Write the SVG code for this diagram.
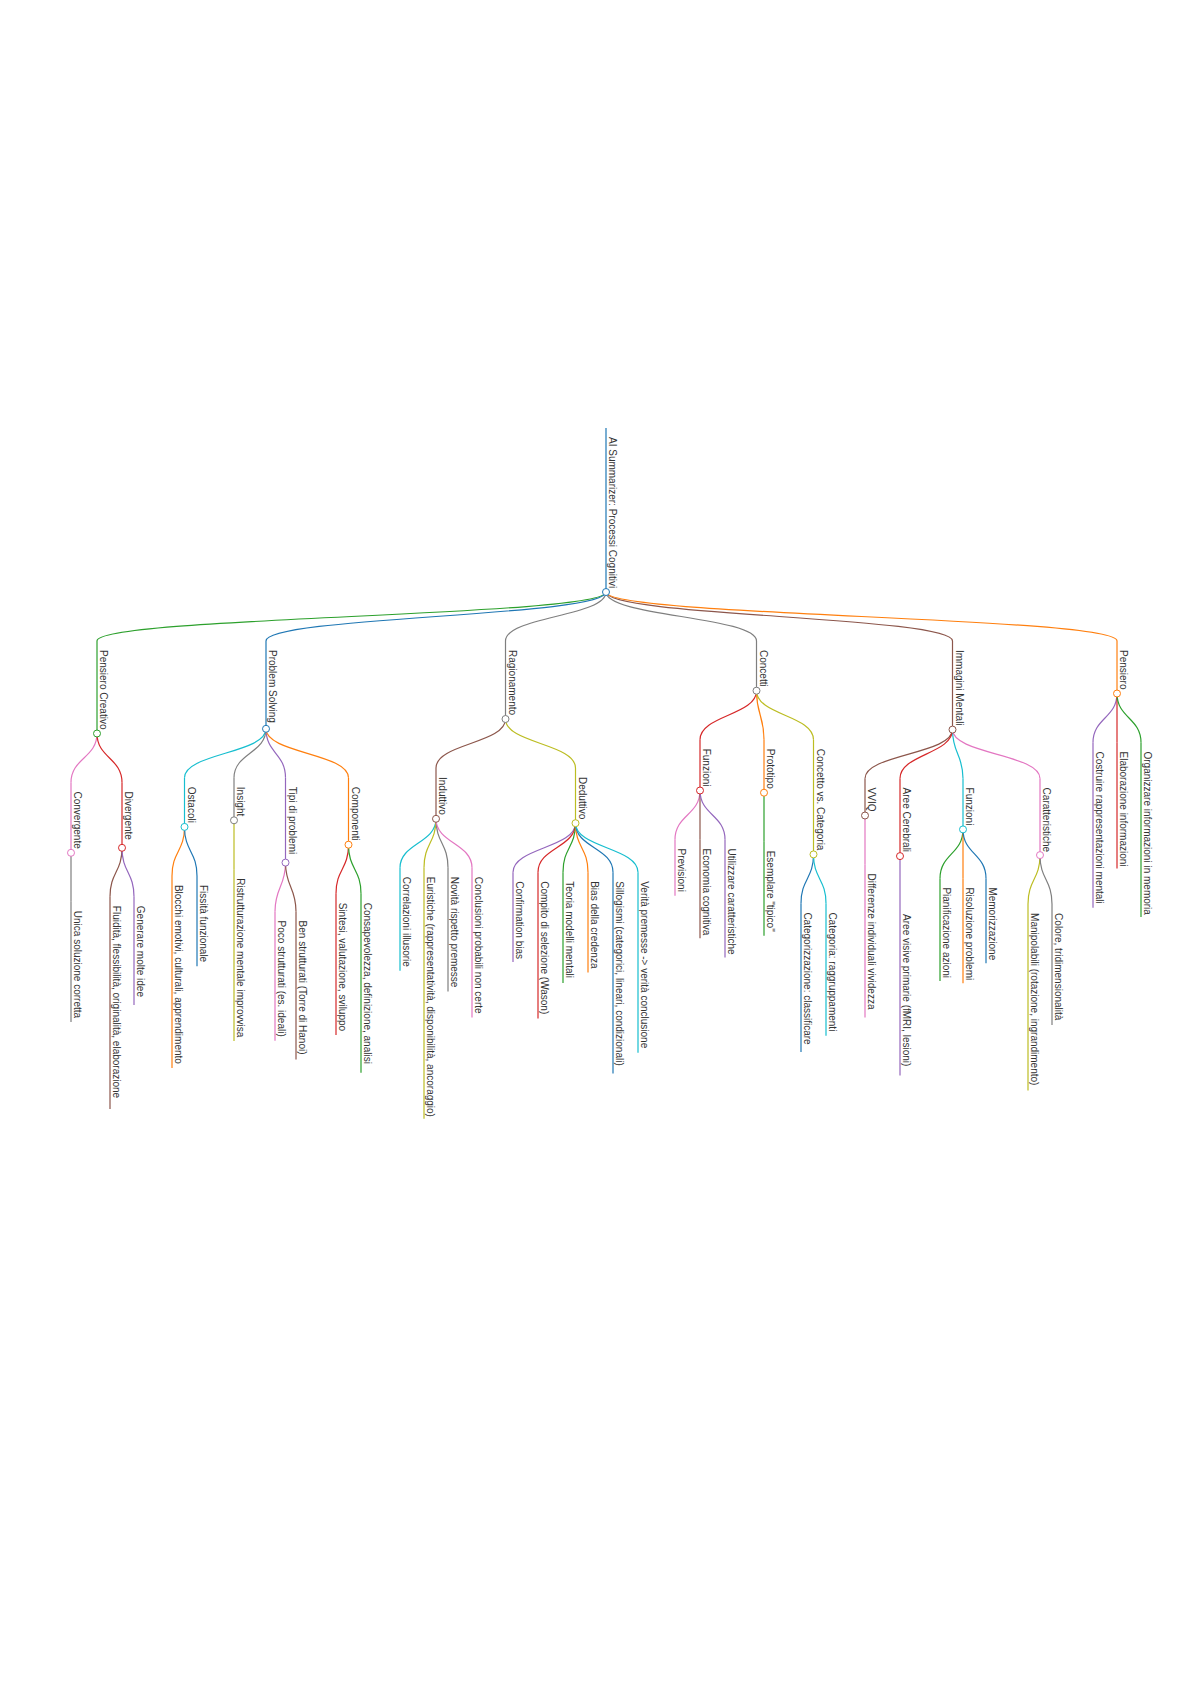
<svg xmlns="http://www.w3.org/2000/svg" width="1200" height="1698" viewBox="0 0 1200 1698">
<style>
text{font-family:"Liberation Sans",Arial,sans-serif;font-size:10px;fill:#333}
.l{fill:none;stroke-width:1.2}
circle{fill:#fff;stroke-width:1}
.k0{stroke:#1f77b4}.k1{stroke:#ff7f0e}.k2{stroke:#2ca02c}.k3{stroke:#d62728}.k4{stroke:#9467bd}
.k5{stroke:#8c564b}.k6{stroke:#e377c2}.k7{stroke:#7f7f7f}.k8{stroke:#bcbd22}.k9{stroke:#17becf}
</style>
<rect width="1200" height="1698" fill="#fff"/>
<g id="connectors">
<path class="l k2" d="M606,592 C606,616.5 97,616.5 97,641"/>
<path class="l k0" d="M606,592 C606,616.5 266,616.5 266,641"/>
<path class="l k7" d="M606,592 C606,616.5 505.5,616.5 505.5,641"/>
<path class="l k7" d="M606,592 C606,616.5 756.5,616.5 756.5,641"/>
<path class="l k5" d="M606,592 C606,616.5 952.5,616.5 952.5,641"/>
<path class="l k1" d="M606,592 C606,616.5 1117,616.5 1117,641"/>
<path class="l k6" d="M97,733.5 C97,758 71,758 71,782.5"/>
<path class="l k3" d="M97,733.5 C97,758 122,758 122,782.5"/>
<path class="l k9" d="M266,728.8 C266,753.3 184.5,753.3 184.5,777.8"/>
<path class="l k7" d="M266,728.8 C266,753.3 234,753.3 234,777.8"/>
<path class="l k4" d="M266,728.8 C266,753.3 285.5,753.3 285.5,777.8"/>
<path class="l k1" d="M266,728.8 C266,753.3 348.5,753.3 348.5,777.8"/>
<path class="l k5" d="M505.5,719 C505.5,743.5 436,743.5 436,768"/>
<path class="l k8" d="M505.5,719 C505.5,743.5 575.5,743.5 575.5,768"/>
<path class="l k3" d="M756.5,690.7 C756.5,715.2 700,715.2 700,739.7"/>
<path class="l k1" d="M756.5,690.7 C756.5,715.2 764,715.2 764,739.7"/>
<path class="l k8" d="M756.5,690.7 C756.5,715.2 813.5,715.2 813.5,739.7"/>
<path class="l k5" d="M952.5,729.6 C952.5,754.1 865,754.1 865,778.6"/>
<path class="l k3" d="M952.5,729.6 C952.5,754.1 900,754.1 900,778.6"/>
<path class="l k9" d="M952.5,729.6 C952.5,754.1 963,754.1 963,778.6"/>
<path class="l k6" d="M952.5,729.6 C952.5,754.1 1040,754.1 1040,778.6"/>
<path class="l k4" d="M1117,693.5 C1117,718 1093,718 1093,742.5"/>
<path class="l k3" d="M1117,693.5 C1117,718 1117,718 1117,742.5"/>
<path class="l k2" d="M1117,693.5 C1117,718 1141,718 1141,742.5"/>
<path class="l k7" d="M71,852.8 L71,901.8"/>
<path class="l k5" d="M122,847.8 C122,872.3 110,872.3 110,896.8"/>
<path class="l k4" d="M122,847.8 C122,872.3 134,872.3 134,896.8"/>
<path class="l k1" d="M184.5,826.9 C184.5,851.4 172,851.4 172,875.9"/>
<path class="l k0" d="M184.5,826.9 C184.5,851.4 197,851.4 197,875.9"/>
<path class="l k8" d="M234,820.3 L234,869.3"/>
<path class="l k6" d="M285.5,862.6 C285.5,887.1 275,887.1 275,911.6"/>
<path class="l k5" d="M285.5,862.6 C285.5,887.1 296,887.1 296,911.6"/>
<path class="l k3" d="M348.5,844.7 C348.5,869.2 336,869.2 336,893.7"/>
<path class="l k2" d="M348.5,844.7 C348.5,869.2 361,869.2 361,893.7"/>
<path class="l k9" d="M436,818.8 C436,843.3 400,843.3 400,867.8"/>
<path class="l k8" d="M436,818.8 C436,843.3 424,843.3 424,867.8"/>
<path class="l k7" d="M436,818.8 C436,843.3 448,843.3 448,867.8"/>
<path class="l k6" d="M436,818.8 C436,843.3 472,843.3 472,867.8"/>
<path class="l k4" d="M575.5,823.2 C575.5,847.7 513,847.7 513,872.2"/>
<path class="l k3" d="M575.5,823.2 C575.5,847.7 538,847.7 538,872.2"/>
<path class="l k2" d="M575.5,823.2 C575.5,847.7 563,847.7 563,872.2"/>
<path class="l k1" d="M575.5,823.2 C575.5,847.7 588,847.7 588,872.2"/>
<path class="l k0" d="M575.5,823.2 C575.5,847.7 613,847.7 613,872.2"/>
<path class="l k9" d="M575.5,823.2 C575.5,847.7 638,847.7 638,872.2"/>
<path class="l k6" d="M700,790.5 C700,815 675,815 675,839.5"/>
<path class="l k5" d="M700,790.5 C700,815 700,815 700,839.5"/>
<path class="l k4" d="M700,790.5 C700,815 725,815 725,839.5"/>
<path class="l k2" d="M764,792.7 L764,841.7"/>
<path class="l k0" d="M813.5,854.4 C813.5,878.9 801,878.9 801,903.4"/>
<path class="l k9" d="M813.5,854.4 C813.5,878.9 826,878.9 826,903.4"/>
<path class="l k6" d="M865,815.5 L865,864.5"/>
<path class="l k4" d="M900,856.1 L900,905.1"/>
<path class="l k2" d="M963,829.4 C963,853.9 940,853.9 940,878.4"/>
<path class="l k1" d="M963,829.4 C963,853.9 963,853.9 963,878.4"/>
<path class="l k0" d="M963,829.4 C963,853.9 986,853.9 986,878.4"/>
<path class="l k8" d="M1040,855.1 C1040,879.6 1028,879.6 1028,904.1"/>
<path class="l k7" d="M1040,855.1 C1040,879.6 1052,879.6 1052,904.1"/>
</g>
<g id="n-root"><line class="l k0" x1="606" y1="428" x2="606" y2="592"/><text transform="translate(609,437) rotate(90)">AI Summarizer: Processi Cognitivi</text><circle class="k0" cx="606" cy="592" r="3.5"/></g>
<g id="n-pc"><line class="l k2" x1="97" y1="641" x2="97" y2="733.5"/><text transform="translate(100,650) rotate(90)">Pensiero Creativo</text><circle class="k2" cx="97" cy="733.5" r="3.5"/></g>
<g id="n-ps"><line class="l k0" x1="266" y1="641" x2="266" y2="728.8"/><text transform="translate(269,650) rotate(90)">Problem Solving</text><circle class="k0" cx="266" cy="728.8" r="3.5"/></g>
<g id="n-rag"><line class="l k7" x1="505.5" y1="641" x2="505.5" y2="719"/><text transform="translate(508.5,650) rotate(90)">Ragionamento</text><circle class="k7" cx="505.5" cy="719" r="3.5"/></g>
<g id="n-con"><line class="l k7" x1="756.5" y1="641" x2="756.5" y2="690.7"/><text transform="translate(759.5,650) rotate(90)">Concetti</text><circle class="k7" cx="756.5" cy="690.7" r="3.5"/></g>
<g id="n-im"><line class="l k5" x1="952.5" y1="641" x2="952.5" y2="729.6"/><text transform="translate(955.5,650) rotate(90)">Immagini Mentali</text><circle class="k5" cx="952.5" cy="729.6" r="3.5"/></g>
<g id="n-pen"><line class="l k1" x1="1117" y1="641" x2="1117" y2="693.5"/><text transform="translate(1120,650) rotate(90)">Pensiero</text><circle class="k1" cx="1117" cy="693.5" r="3.5"/></g>
<g id="n-conv"><line class="l k6" x1="71" y1="782.5" x2="71" y2="852.8"/><text transform="translate(74,791.5) rotate(90)">Convergente</text><circle class="k6" cx="71" cy="852.8" r="3.5"/></g>
<g id="n-div"><line class="l k3" x1="122" y1="782.5" x2="122" y2="847.8"/><text transform="translate(125,791.5) rotate(90)">Divergente</text><circle class="k3" cx="122" cy="847.8" r="3.5"/></g>
<g id="n-ost"><line class="l k9" x1="184.5" y1="777.8" x2="184.5" y2="826.9"/><text transform="translate(187.5,786.8) rotate(90)">Ostacoli</text><circle class="k9" cx="184.5" cy="826.9" r="3.5"/></g>
<g id="n-ins"><line class="l k7" x1="234" y1="777.8" x2="234" y2="820.3"/><text transform="translate(237,786.8) rotate(90)">Insight</text><circle class="k7" cx="234" cy="820.3" r="3.5"/></g>
<g id="n-tipi"><line class="l k4" x1="285.5" y1="777.8" x2="285.5" y2="862.6"/><text transform="translate(288.5,786.8) rotate(90)">Tipi di problemi</text><circle class="k4" cx="285.5" cy="862.6" r="3.5"/></g>
<g id="n-comp"><line class="l k1" x1="348.5" y1="777.8" x2="348.5" y2="844.7"/><text transform="translate(351.5,786.8) rotate(90)">Componenti</text><circle class="k1" cx="348.5" cy="844.7" r="3.5"/></g>
<g id="n-ind"><line class="l k5" x1="436" y1="768" x2="436" y2="818.8"/><text transform="translate(439,777) rotate(90)">Induttivo</text><circle class="k5" cx="436" cy="818.8" r="3.5"/></g>
<g id="n-ded"><line class="l k8" x1="575.5" y1="768" x2="575.5" y2="823.2"/><text transform="translate(578.5,777) rotate(90)">Deduttivo</text><circle class="k8" cx="575.5" cy="823.2" r="3.5"/></g>
<g id="n-funzc"><line class="l k3" x1="700" y1="739.7" x2="700" y2="790.5"/><text transform="translate(703,748.7) rotate(90)">Funzioni</text><circle class="k3" cx="700" cy="790.5" r="3.5"/></g>
<g id="n-proto"><line class="l k1" x1="764" y1="739.7" x2="764" y2="792.7"/><text transform="translate(767,748.7) rotate(90)">Prototipo</text><circle class="k1" cx="764" cy="792.7" r="3.5"/></g>
<g id="n-cvc"><line class="l k8" x1="813.5" y1="739.7" x2="813.5" y2="854.4"/><text transform="translate(816.5,748.7) rotate(90)">Concetto vs. Categoria</text><circle class="k8" cx="813.5" cy="854.4" r="3.5"/></g>
<g id="n-vviq"><line class="l k5" x1="865" y1="778.6" x2="865" y2="815.5"/><text transform="translate(868,787.6) rotate(90)">VVIQ</text><circle class="k5" cx="865" cy="815.5" r="3.5"/></g>
<g id="n-aree"><line class="l k3" x1="900" y1="778.6" x2="900" y2="856.1"/><text transform="translate(903,787.6) rotate(90)">Aree Cerebrali</text><circle class="k3" cx="900" cy="856.1" r="3.5"/></g>
<g id="n-funzi"><line class="l k9" x1="963" y1="778.6" x2="963" y2="829.4"/><text transform="translate(966,787.6) rotate(90)">Funzioni</text><circle class="k9" cx="963" cy="829.4" r="3.5"/></g>
<g id="n-car"><line class="l k6" x1="1040" y1="778.6" x2="1040" y2="855.1"/><text transform="translate(1043,787.6) rotate(90)">Caratteristiche</text><circle class="k6" cx="1040" cy="855.1" r="3.5"/></g>
<g id="n-org"><line class="l k2" x1="1141" y1="742.5" x2="1141" y2="916.9"/><text transform="translate(1144,751.5) rotate(90)">Organizzare informazioni in memoria</text></g>
<g id="n-ela"><line class="l k3" x1="1117" y1="742.5" x2="1117" y2="868.5"/><text transform="translate(1120,751.5) rotate(90)">Elaborazione informazioni</text></g>
<g id="n-cos"><line class="l k4" x1="1093" y1="742.5" x2="1093" y2="907.8"/><text transform="translate(1096,751.5) rotate(90)">Costruire rappresentazioni mentali</text></g>
<g id="n-unica"><line class="l k7" x1="71" y1="901.8" x2="71" y2="1022.1"/><text transform="translate(74,910.8) rotate(90)">Unica soluzione corretta</text></g>
<g id="n-fluid"><line class="l k5" x1="110" y1="896.8" x2="110" y2="1109.1"/><text transform="translate(113,905.8) rotate(90)">Fluidità, flessibilità, originalità, elaborazione</text></g>
<g id="n-gen"><line class="l k4" x1="134" y1="896.8" x2="134" y2="1004.9"/><text transform="translate(137,905.8) rotate(90)">Generare molte idee</text></g>
<g id="n-blocchi"><line class="l k1" x1="172" y1="875.9" x2="172" y2="1067.9"/><text transform="translate(175,884.9) rotate(90)">Blocchi emotivi, culturali, apprendimento</text></g>
<g id="n-fiss"><line class="l k0" x1="197" y1="875.9" x2="197" y2="966.2"/><text transform="translate(200,884.9) rotate(90)">Fissità funzionale</text></g>
<g id="n-ristr"><line class="l k8" x1="234" y1="869.3" x2="234" y2="1041"/><text transform="translate(237,878.3) rotate(90)">Ristrutturazione mentale improvvisa</text></g>
<g id="n-poco"><line class="l k6" x1="275" y1="911.6" x2="275" y2="1040.8"/><text transform="translate(278,920.6) rotate(90)">Poco strutturati (es. ideali)</text></g>
<g id="n-ben"><line class="l k5" x1="296" y1="911.6" x2="296" y2="1059.6"/><text transform="translate(299,920.6) rotate(90)">Ben strutturati (Torre di Hanoi)</text></g>
<g id="n-sint"><line class="l k3" x1="336" y1="893.7" x2="336" y2="1035.1"/><text transform="translate(339,902.7) rotate(90)">Sintesi, valutazione, sviluppo</text></g>
<g id="n-consap"><line class="l k2" x1="361" y1="893.7" x2="361" y2="1072.7"/><text transform="translate(364,902.7) rotate(90)">Consapevolezza, definizione, analisi</text></g>
<g id="n-corr"><line class="l k9" x1="400" y1="867.8" x2="400" y2="970.8"/><text transform="translate(403,876.8) rotate(90)">Correlazioni illusorie</text></g>
<g id="n-eur"><line class="l k8" x1="424" y1="867.8" x2="424" y2="1118.8"/><text transform="translate(427,876.8) rotate(90)">Euristiche (rappresentatività, disponibilità, ancoraggio)</text></g>
<g id="n-nov"><line class="l k7" x1="448" y1="867.8" x2="448" y2="991.4"/><text transform="translate(451,876.8) rotate(90)">Novità rispetto premesse</text></g>
<g id="n-concl"><line class="l k6" x1="472" y1="867.8" x2="472" y2="1017.5"/><text transform="translate(475,876.8) rotate(90)">Conclusioni probabili non certe</text></g>
<g id="n-conf"><line class="l k4" x1="513" y1="872.2" x2="513" y2="962"/><text transform="translate(516,881.2) rotate(90)">Confirmation bias</text></g>
<g id="n-wason"><line class="l k3" x1="538" y1="872.2" x2="538" y2="1018.6"/><text transform="translate(541,881.2) rotate(90)">Compito di selezione (Wason)</text></g>
<g id="n-teo"><line class="l k2" x1="563" y1="872.2" x2="563" y2="983"/><text transform="translate(566,881.2) rotate(90)">Teoria modelli mentali</text></g>
<g id="n-bias"><line class="l k1" x1="588" y1="872.2" x2="588" y2="972.5"/><text transform="translate(591,881.2) rotate(90)">Bias della credenza</text></g>
<g id="n-sill"><line class="l k0" x1="613" y1="872.2" x2="613" y2="1073.6"/><text transform="translate(616,881.2) rotate(90)">Sillogismi (categorici, lineari, condizionali)</text></g>
<g id="n-ver"><line class="l k9" x1="638" y1="872.2" x2="638" y2="1052.8"/><text transform="translate(641,881.2) rotate(90)">Verità premesse -&gt; verità conclusione</text></g>
<g id="n-prev"><line class="l k6" x1="675" y1="839.5" x2="675" y2="895.8"/><text transform="translate(678,848.5) rotate(90)">Previsioni</text></g>
<g id="n-eco"><line class="l k5" x1="700" y1="839.5" x2="700" y2="938.2"/><text transform="translate(703,848.5) rotate(90)">Economia cognitiva</text></g>
<g id="n-util"><line class="l k4" x1="725" y1="839.5" x2="725" y2="957.6"/><text transform="translate(728,848.5) rotate(90)">Utilizzare caratteristiche</text></g>
<g id="n-esem"><line class="l k2" x1="764" y1="841.7" x2="764" y2="935.7"/><text transform="translate(767,850.7) rotate(90)">Esemplare "tipico"</text></g>
<g id="n-catz"><line class="l k0" x1="801" y1="903.4" x2="801" y2="1052.1"/><text transform="translate(804,912.4) rotate(90)">Categorizzazione: classificare</text></g>
<g id="n-catg"><line class="l k9" x1="826" y1="903.4" x2="826" y2="1035.8"/><text transform="translate(829,912.4) rotate(90)">Categoria: raggruppamenti</text></g>
<g id="n-diff"><line class="l k6" x1="865" y1="864.5" x2="865" y2="1017.5"/><text transform="translate(868,873.5) rotate(90)">Differenze individuali vividezza</text></g>
<g id="n-areev"><line class="l k4" x1="900" y1="905.1" x2="900" y2="1075.4"/><text transform="translate(903,914.1) rotate(90)">Aree visive primarie (fMRI, lesioni)</text></g>
<g id="n-pian"><line class="l k2" x1="940" y1="878.4" x2="940" y2="981"/><text transform="translate(943,887.4) rotate(90)">Pianificazione azioni</text></g>
<g id="n-riso"><line class="l k1" x1="963" y1="878.4" x2="963" y2="983.2"/><text transform="translate(966,887.4) rotate(90)">Risoluzione problemi</text></g>
<g id="n-memo"><line class="l k0" x1="986" y1="878.4" x2="986" y2="963.2"/><text transform="translate(989,887.4) rotate(90)">Memorizzazione</text></g>
<g id="n-manip"><line class="l k8" x1="1028" y1="904.1" x2="1028" y2="1090.6"/><text transform="translate(1031,913.1) rotate(90)">Manipolabili (rotazione, ingrandimento)</text></g>
<g id="n-col"><line class="l k7" x1="1052" y1="904.1" x2="1052" y2="1025.1"/><text transform="translate(1055,913.1) rotate(90)">Colore, tridimensionalità</text></g>
</svg>
